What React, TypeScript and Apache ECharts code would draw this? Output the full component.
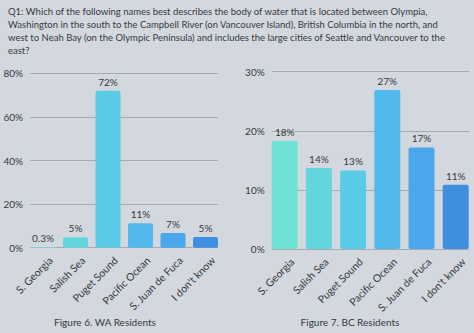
import React, { useEffect, useRef } from "react";
import * as echarts from "echarts";

const categories = ["S. Georgia", "Salish Sea", "Puget Sound", "Pacific Ocean", "S. Juan de Fuca", "I don't know"];
const waValues = [0.3, 4.8, 72, 11.2, 6.8, 4.9];
const bcValues = [18.3, 13.7, 13.3, 26.9, 17.2, 10.9];
const barColors = ["#6fe2d6", "#62d6dc", "#5acbe5", "#52b9ed", "#4aa7eb", "#3f8fe0"];
const waAxis = { max: 80, interval: 20 };
const bcAxis = { max: 30, interval: 10 };
const questionLines = [
  "Q1: Which of the following names best describes the body of water that is located between Olympia,",
  "Washington in the south to the Campbell River (on Vancouver Island), British Columbia in the north, and",
  "west to Neah Bay (on the Olympic Peninsula) and includes the large cities of Seattle and Vancouver to the",
  "east?",
];
const captions = ["Figure 6. WA Residents", "Figure 7. BC Residents"];

const FONT = "Lato, 'Open Sans', sans-serif";
const TEXT = "#333a40";
const GRIDLINE = "#a3aab2";

function fmt(v: number) {
  return (v < 1 ? v.toFixed(1) : String(Math.round(v))) + "%";
}

export default function App() {
  const ref = useRef<HTMLDivElement>(null);
  useEffect(() => {
    if (!ref.current) return;
    const chart = echarts.init(ref.current, undefined, { renderer: "svg" });
    const catAxis = (gridIndex: number) => ({
      type: "category",
      gridIndex,
      data: categories,
      axisLine: { show: false },
      axisTick: { show: false },
      axisLabel: {
        rotate: 45,
        interval: 0,
        margin: 3,
        align: "right",
        verticalAlign: "top",
        lineHeight: 22,
        fontSize: 10.5,
        color: TEXT,
        fontFamily: FONT,
      },
    });
    const hiddenX = (gridIndex: number) => ({ type: "value", gridIndex, min: 0, max: 1, show: false });
    const hiddenY = (gridIndex: number, max: number) => ({ type: "value", gridIndex, min: 0, max, show: false });
    const lineY = (gridIndex: number, a: { max: number; interval: number }) => ({
      type: "value",
      gridIndex,
      min: 0,
      max: a.max,
      interval: a.interval,
      axisLine: { show: false },
      axisTick: { show: false },
      axisLabel: { formatter: "{value}%", margin: 7, fontSize: 10, color: TEXT, fontFamily: FONT },
      splitLine: { lineStyle: { color: GRIDLINE, width: 1 } },
    });
    const barSeries = (axisIndex: number, values: number[], barWidth: number) => ({
      type: "bar",
      xAxisIndex: axisIndex,
      yAxisIndex: axisIndex,
      barWidth,
      data: values.map((v, i) => ({ value: v, itemStyle: { color: barColors[i], borderRadius: 2 } })),
      label: {
        show: true,
        position: "top",
        distance: 4,
        fontSize: 10,
        color: TEXT,
        fontFamily: FONT,
        formatter: (p: any) => fmt(p.value),
      },
    });
    chart.setOption({
      animation: false,
      backgroundColor: "#d3d8de",
      grid: [
        { left: 26.75, top: 73.3, width: 195, height: 174.4 },
        { left: 30, top: 73.3, width: 188, height: 174.4 },
        { left: 267.6, top: 71.7, width: 205.2, height: 177.4 },
        { left: 271.7, top: 71.7, width: 197.3, height: 177.4 },
      ],
      xAxis: [catAxis(0), hiddenX(1), catAxis(2), hiddenX(3)],
      yAxis: [hiddenY(0, waAxis.max), lineY(1, waAxis), hiddenY(2, bcAxis.max), lineY(3, bcAxis)],
      series: [barSeries(0, waValues, 25), barSeries(2, bcValues, 26)],
      graphic: [
        {
          type: "text",
          x: 8,
          y: 5,
          style: {
            text: questionLines.join("\n"),
            fontSize: 9.5,
            lineHeight: 13,
            fontFamily: FONT,
            fill: TEXT,
            verticalAlign: "top",
          },
        },
        {
          type: "text",
          x: 105,
          y: 322,
          style: { text: captions[0], fontSize: 10, fontFamily: FONT, fill: TEXT, align: "center", verticalAlign: "middle" },
        },
        {
          type: "text",
          x: 350,
          y: 322,
          style: { text: captions[1], fontSize: 10, fontFamily: FONT, fill: TEXT, align: "center", verticalAlign: "middle" },
        },
      ],
    });
    return () => chart.dispose();
  }, []);
  return <div ref={ref} style={{ position: "fixed", left: 0, top: 0, width: 474, height: 333 }} />;
}
